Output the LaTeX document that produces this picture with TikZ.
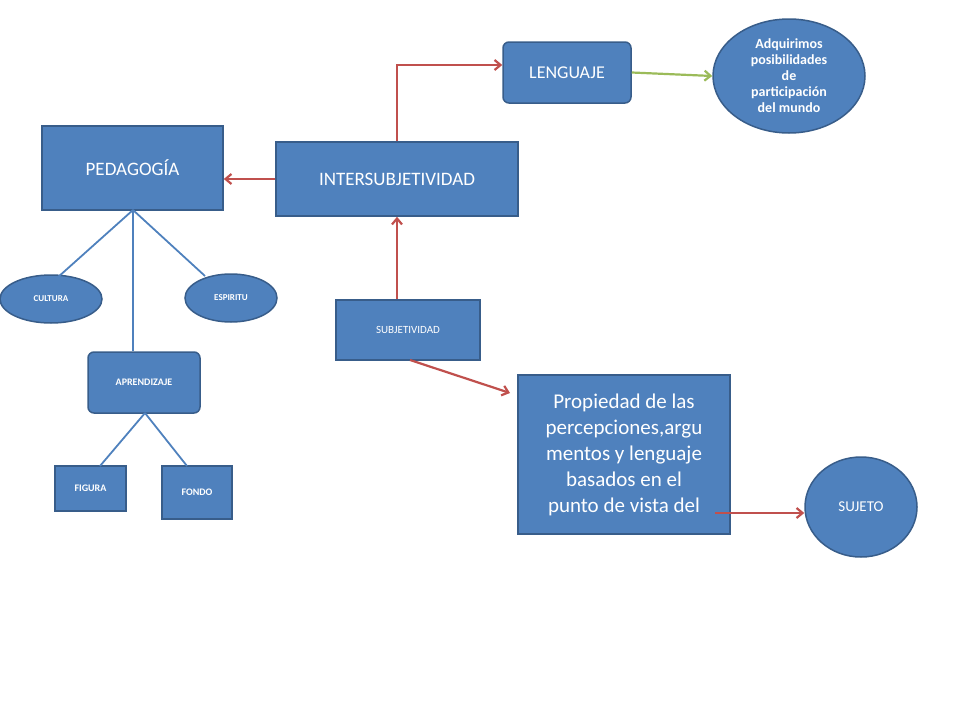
\documentclass[tikz,border=0pt]{standalone}
\usepackage{fontspec}
\setmainfont{Carlito}
\usetikzlibrary{shapes.geometric,arrows.meta}
\definecolor{bfill}{HTML}{4F81BD}
\definecolor{bdraw}{HTML}{385D8A}
\definecolor{rarr}{HTML}{C0504D}
\definecolor{garr}{HTML}{9BBB59}
\tikzset{
 box/.style={draw=bdraw,line width=1.5pt,fill=bfill,text=white,inner sep=2pt,align=center},
 rbox/.style={box,rounded corners=6pt},
 ell/.style={box,ellipse},
 redarr/.style={draw=rarr,line width=2.2pt,-{Straight Barb[length=6pt,width=10pt]}},
 greenarr/.style={draw=garr,line width=2.2pt,-{Straight Barb[length=6pt,width=10pt]}},
 bline/.style={draw=bfill,line width=1.8pt}
}
\begin{document}
\begin{tikzpicture}[x=1pt,y=-1pt]
\useasboundingbox (0,0) rectangle (960,720);
\node[box,minimum width=181pt,minimum height=84pt,font=\fontsize{19}{22}\selectfont] (ped) at (132.5,168) {PEDAGOGÍA};
\node[box,minimum width=242pt,minimum height=74pt,font=\fontsize{19}{22}\selectfont] (inter) at (397,179) {INTERSUBJETIVIDAD};
\node[rbox,minimum width=128pt,minimum height=61pt,font=\fontsize{18}{22}\selectfont] (len) at (567,72.5) {LENGUAJE};
\node[ell,minimum width=152pt,minimum height=114pt,font=\bfseries\fontsize{14}{16}\selectfont] (adq) at (789,76) {Adquirimos\\posibilidades\\de\\participación\\del mundo};
\node[ell,minimum width=102pt,minimum height=48pt,font=\bfseries\fontsize{9}{11}\selectfont] (cul) at (51,299) {CULTURA};
\node[ell,minimum width=92pt,minimum height=48pt,font=\bfseries\fontsize{9}{11}\selectfont] (esp) at (231,298) {ESPIRITU};
\node[rbox,minimum width=112pt,minimum height=61pt,font=\bfseries\fontsize{10}{12}\selectfont] (apr) at (144,382.5) {APRENDIZAJE};
\node[box,minimum width=71pt,minimum height=45pt,font=\bfseries\fontsize{10}{12}\selectfont] (fig) at (90.5,488.5) {FIGURA};
\node[box,minimum width=70pt,minimum height=53pt,font=\bfseries\fontsize{10}{12}\selectfont] (fon) at (197,492.5) {FONDO};
\node[box,minimum width=144pt,minimum height=60pt,font=\fontsize{11}{13}\selectfont] (sub) at (408,330) {SUBJETIVIDAD};
\node[box,minimum width=212pt,minimum height=159pt,font=\fontsize{21}{26}\selectfont] (prop) at (624,454.5) {Propiedad de las\\percepciones,argu\\mentos y lenguaje\\basados en el\\punto de vista del};
\node[ell,minimum width=112pt,minimum height=100pt,font=\fontsize{15}{18}\selectfont] (suj) at (861,507) {SUJETO};
\coordinate (pb) at (133,210);
\draw[bline] (pb) -- (57,278);
\draw[bline] (pb) -- (205,276);
\draw[bline] (pb) -- (apr.north -| pb);
\coordinate (ab) at (145,413);
\draw[bline] (ab) -- (100,466);
\draw[bline] (ab) -- (187,466);
\draw[redarr] (inter.west) -- (ped.east |- inter.west);
\draw[redarr] (inter.north) -- (397,65) -- (len.west |- 0,65);
\draw[greenarr] (len.east) -- (adq.west);
\draw[redarr] (sub.north -| inter.south) -- (inter.south);
\draw[redarr] (410,360) -- (510,393);
\draw[redarr] (715,513) -- (suj.west |- 0,513);
\end{tikzpicture}
\end{document}
